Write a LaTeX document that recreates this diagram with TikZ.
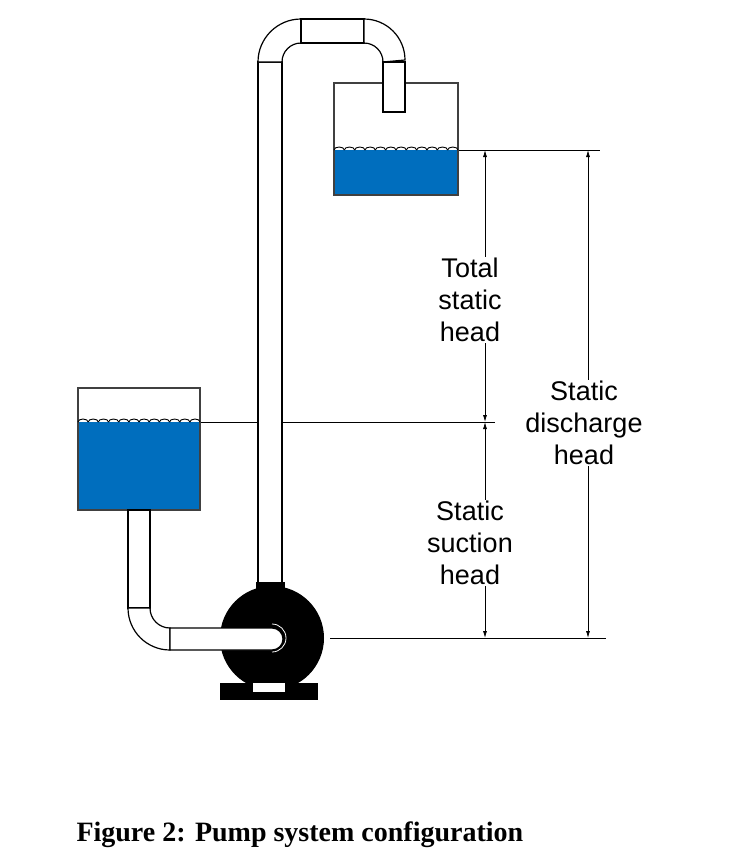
\documentclass[tikz,border=0pt]{standalone}
\usepackage{fontspec}
\setmainfont{Liberation Sans}
\newfontfamily\capfont{Liberation Serif}
\usetikzlibrary{arrows.meta}
\definecolor{water}{RGB}{0,110,190}
\begin{document}
\begin{tikzpicture}[x=1pt,y=-1pt,
  pipe/.style={draw=black,fill=white,line width=1.2pt},
  tank/.style={draw=black!75,line width=1.6pt},
  dim/.style={line width=0.8pt},
  arr/.style={dim,{Latex[length=7pt,width=4pt]}-{Latex[length=7pt,width=4pt]}},
  lab/.style={font=\fontsize{27}{32}\selectfont,align=center,inner sep=1pt,fill=white}]
\useasboundingbox (0,0) rectangle (734,855);
% reference lines
\draw[dim] (458,150) -- (600,150);
\draw[dim] (200,422) -- (495,422);
\draw[dim] (330,638) -- (606,638);
% upper tank
\fill[water] (334,150) rectangle (458,195);
\draw[tank] (334,83) -- (334,195) -- (458,195) -- (458,83) -- cycle;
\foreach \i in {0,...,11} \draw[line width=0.9pt] (334+\i*10.33,150) arc[start angle=180,end angle=360,x radius=5.17,y radius=3];
% lower tank
\fill[water] (78,422) rectangle (200,510);
\draw[tank] (78,388) rectangle (200,510);
\foreach \i in {0,...,11} \draw[line width=0.9pt] (78+\i*10.17,422) arc[start angle=180,end angle=360,x radius=5.08,y radius=3];
% riser pipe
\draw[pipe] (258,590) -- (258,62) -- (282,62) -- (282,590);
\draw[pipe] (258,62) arc[start angle=180,end angle=270,radius=43] -- (301,43) arc[start angle=270,end angle=180,radius=19] -- cycle;
\draw[pipe] (301,19) rectangle (364,43);
\draw[pipe] (364,19) arc[start angle=270,end angle=360,radius=41] -- (383,62) arc[start angle=0,end angle=-90,radius=19] -- cycle;
\draw[pipe] (383,62) rectangle (405,112);
% suction pipe
\draw[pipe] (128,510) rectangle (150,608);
\draw[pipe] (128,608) arc[start angle=180,end angle=90,radius=42] -- (170,628) arc[start angle=90,end angle=180,radius=20] -- cycle;
% pump
\node[circle,fill=black,minimum size=104pt,inner sep=0] (pump) at (272,638) {};
\fill (220,683) rectangle (318,700);
\fill[white] (253,683) rectangle (285,692);
\fill (256,582) rectangle (285,592);
\draw[pipe] (170,628) -- (272,628) arc[start angle=-90,end angle=90,radius=11] -- (170,650) -- cycle;
\draw[white,line width=0.8pt] (272,624) arc[start angle=-90,end angle=90,radius=14];
% dimensions
\coordinate (a1) at (485,150); \coordinate (a2) at (485,422); \coordinate (a3) at (485,638);
\draw[arr] (a1) -- (a2);
\draw[arr] (a2) -- (a3);
\draw[arr] (588,150) -- (588,638);
\node[lab] (tsh) at (470,300) {Total\\static\\head};
\node[lab] (ssh) at (470,543) {Static\\suction\\head};
\node[lab] (sdh) at (584,423) {Static\\discharge\\head};
\node[font=\capfont\bfseries\fontsize{28}{32}\selectfont,anchor=west] (cap) at (73,835) {Figure 2: Pump system configuration};
\end{tikzpicture}
\end{document}
